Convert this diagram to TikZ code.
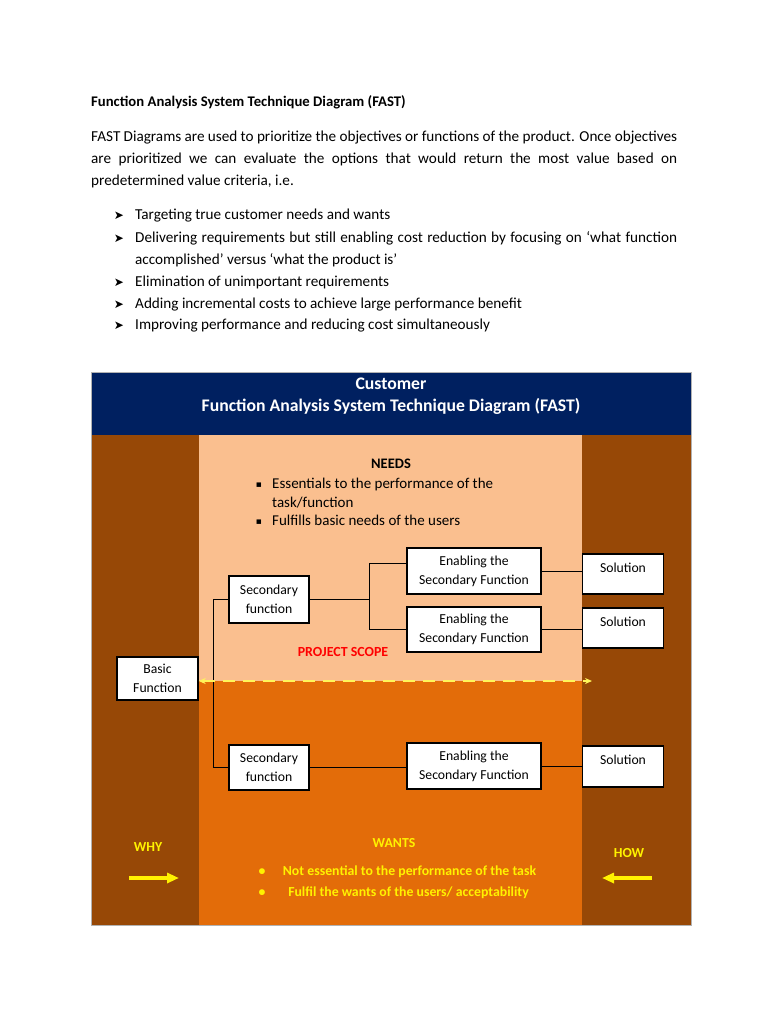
\documentclass[tikz,border=0pt]{standalone}
\usepackage{fontspec}
\setmainfont{Carlito}
\newfontfamily\dejavu{DejaVu Sans}
\usetikzlibrary{arrows.meta}
\definecolor{navy}{HTML}{002060}
\definecolor{brownc}{HTML}{974806}
\definecolor{peach}{HTML}{FABF8F}
\definecolor{orangec}{HTML}{E36C09}
\definecolor{scopeyellow}{HTML}{FFF55A}
\begin{document}
\begin{tikzpicture}[x=1pt,y=-1pt,
  txt/.style={inner sep=0pt, anchor=base west, font=\fontsize{15.2pt}{22pt}\selectfont},
  bul/.style={inner sep=0pt, anchor=base, font=\dejavu\fontsize{12pt}{22pt}\selectfont},
  box/.style={draw=black, line width=1.4pt, fill=white, align=center, inner sep=0pt,
              font=\fontsize{13.7pt}{19pt}\selectfont},
  secbox/.style={box, minimum width=80pt, minimum height=46pt},
  enabbox/.style={box, minimum width=134pt, minimum height=46pt},
  solbox/.style={box, minimum width=81pt, minimum height=40pt, text height=8pt, text depth=12pt},
  conn/.style={draw=black, line width=0.9pt},
  ylw/.style={text=yellow, font=\bfseries\fontsize{13.8pt}{21pt}\selectfont, inner sep=0pt},
  bigarrow/.style={draw=yellow, line width=4.5pt, -{Triangle[length=12pt,width=10pt]}}
]
\useasboundingbox (0,0) rectangle (768,1024);
\fill[white] (0,0) rectangle (768,1024);

% ---- top text ----
\node[txt, font=\bfseries\fontsize{14.7pt}{22pt}\selectfont] (title) at (91,107) {Function Analysis System Technique Diagram (FAST)};
\node[txt] (p1) at (91,142) {\makebox[586pt][s]{FAST Diagrams are used to prioritize the objectives or functions of the product. Once objectives}};
\node[txt] (p2) at (91,164) {\makebox[586pt][s]{are prioritized we can evaluate the options that would return the most value based on}};
\node[txt] (p3) at (91,186) {predetermined value criteria, i.e.};

\node[bul] (k1) at (119,220) {➤};
\node[txt] (l1) at (135,220) {Targeting true customer needs and wants};
\node[bul] (k2) at (119,242) {➤};
\node[txt] (l2) at (135,242) {\makebox[542pt][s]{Delivering requirements but still enabling cost reduction by focusing on ‘what function}};
\node[txt] (l2b) at (135,264) {accomplished’ versus ‘what the product is’};
\node[bul] (k3) at (119,286) {➤};
\node[txt] (l3) at (135,286) {Elimination of unimportant requirements};
\node[bul] (k4) at (119,308) {➤};
\node[txt] (l4) at (135,308) {Adding incremental costs to achieve large performance benefit};
\node[bul] (k5) at (119,329) {➤};
\node[txt] (l5) at (135,329) {Improving performance and reducing cost simultaneously};

% ---- diagram background ----
\fill[navy] (91,372) rectangle (691,435);
\fill[brownc] (91,435) rectangle (199,925);
\fill[brownc] (582,435) rectangle (691,925);
\fill[peach] (199,435) rectangle (582,681);
\fill[orangec] (199,681) rectangle (582,925);
\draw[gray!60, line width=0.6pt] (91,372) rectangle (691,925);

\node[text=white, anchor=base, inner sep=0pt, font=\bfseries\fontsize{17.7pt}{22pt}\selectfont] (h1) at (391,389) {Customer};
\node[text=white, anchor=base, inner sep=0pt, font=\bfseries\fontsize{17.7pt}{22pt}\selectfont] (h2) at (391,411) {Function Analysis System Technique Diagram (FAST)};

% ---- needs ----
\node[anchor=base, inner sep=0pt, font=\bfseries\fontsize{14.5pt}{18pt}\selectfont] (needs) at (391,468) {NEEDS};
\node[bul, font=\dejavu\fontsize{9pt}{18pt}\selectfont] (nb1) at (259,487) {▪};
\node[txt, font=\fontsize{15pt}{18pt}\selectfont] (n1) at (272,488) {Essentials to the performance of the};
\node[txt, font=\fontsize{15pt}{18pt}\selectfont] (n1b) at (272,507) {task/function};
\node[bul, font=\dejavu\fontsize{9pt}{18pt}\selectfont] (nb2) at (259,524) {▪};
\node[txt, font=\fontsize{15pt}{18pt}\selectfont] (n2) at (272,525) {Fulfills basic needs of the users};

% ---- boxes ----
\node[box, minimum width=81pt, minimum height=43pt] (basic) at (157.5,678.5) {Basic\\Function};
\node[secbox, minimum height=47pt] (sec1) at (269,599.5) {Secondary\\function};
\node[enabbox] (enab1) at (474,571) {Enabling the\\Secondary Function};
\node[enabbox, minimum height=45pt] (enab2) at (474,629.5) {Enabling the\\Secondary Function};
\node[solbox] (sol1) at (623,574) {Solution};
\node[solbox] (sol2) at (623,628) {Solution};
\node[secbox, minimum height=45pt] (sec2) at (269,767.5) {Secondary\\function};
\node[enabbox] (enab3) at (474,766) {Enabling the\\Secondary Function};
\node[solbox, minimum height=41pt] (sol3) at (623,766.5) {Solution};

% ---- connectors ----
\coordinate (spine) at (213,0);
\coordinate (fork) at (369,0);
\draw[conn] (sec1.west) -- (sec1.west -| spine) -- (sec2.west -| spine) -- (sec2.west);
\draw[conn] (sec1.east) -- (sec1.east -| fork);
\draw[conn] ([yshift=8pt]enab1.west) -| (fork |- enab2.west) -- (enab2.west);
\draw[conn] (enab1.east) -- (sol1.west |- enab1.east);
\draw[conn] (enab2.east) -- (sol2.west |- enab2.east);
\draw[conn] (sec2.east) -- (enab3.west |- sec2.east);
\draw[conn] (enab3.east) -- (sol3.west |- enab3.east);

% ---- project scope ----
\node[anchor=base, inner sep=0pt, text=red, font=\bfseries\fontsize{13.9pt}{18pt}\selectfont] (scope) at (343,656) {PROJECT SCOPE};
\coordinate (scopeR) at (592,681);
\draw[scopeyellow, line width=1.8pt, dash pattern=on 12pt off 8pt, {Stealth[length=7pt,width=6pt]}-{Stealth[length=7pt,width=6pt]}] (basic.east |- scopeR) -- (scopeR);

% ---- wants ----
\node[ylw, anchor=base] (wants) at (394,847) {WANTS};
\node[ylw, anchor=base] (wb1) at (262,875) {•};
\node[ylw, anchor=base] (w1) at (409.5,875) {Not essential to the performance of the task};
\node[ylw, anchor=base] (wb2) at (262,896) {•};
\node[ylw, anchor=base] (w2) at (408.5,896) {Fulfil the wants of the users/ acceptability};

% ---- why / how ----
\node[ylw, anchor=base] (why) at (148,851) {WHY};
\node[ylw, anchor=base] (how) at (629,857) {HOW};
\coordinate (whyA) at (129,878);
\coordinate (whyB) at (179,878);
\coordinate (howA) at (652,878);
\coordinate (howB) at (602,878);
\draw[bigarrow] (whyA) -- (whyB);
\draw[bigarrow] (howA) -- (howB);
\end{tikzpicture}
\end{document}
